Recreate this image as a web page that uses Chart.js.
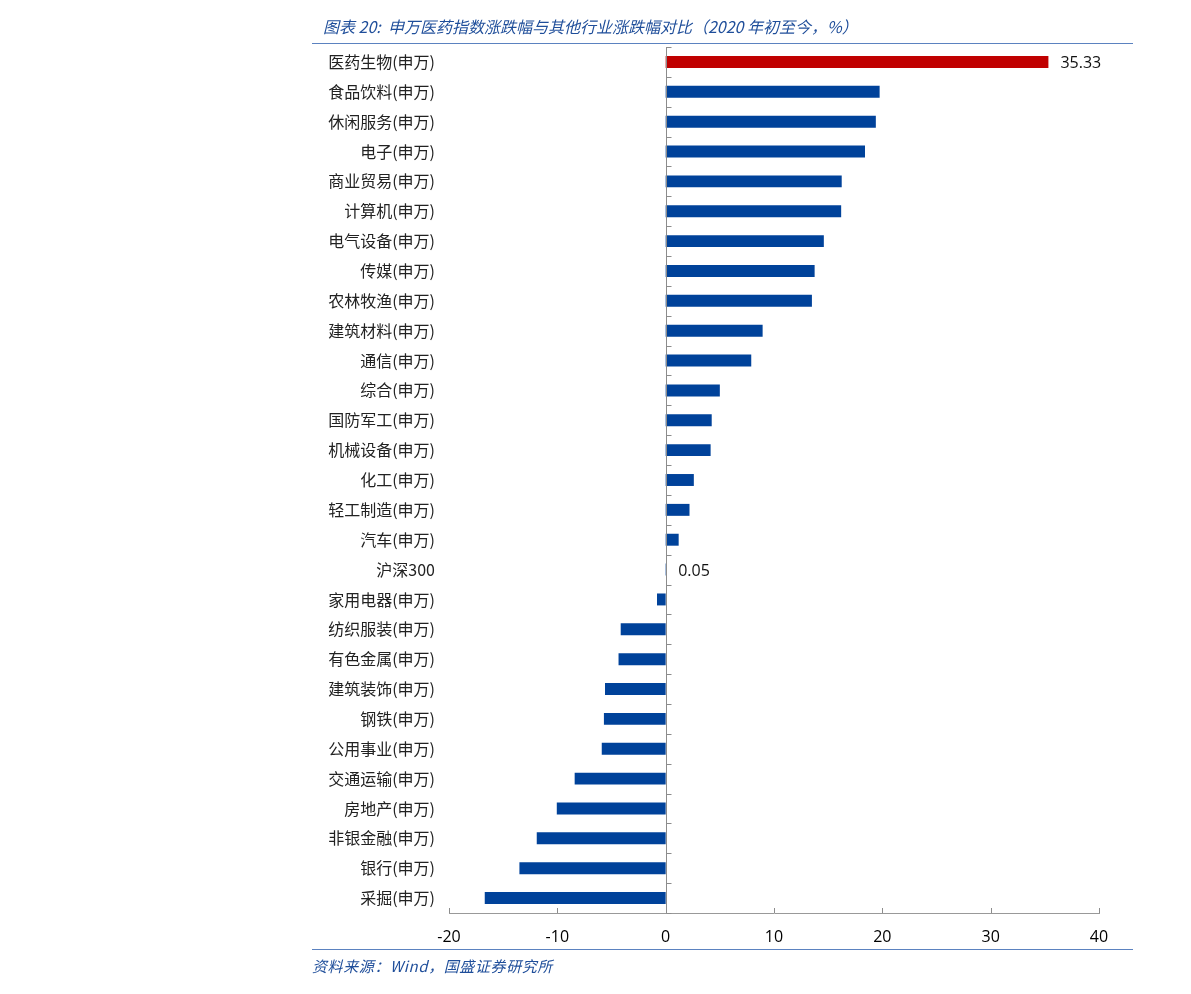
<!DOCTYPE html>
<html>
<head>
<meta charset="utf-8">
<script src="https://cdn.jsdelivr.net/npm/chart.js@4/dist/chart.umd.min.js"></script>
<style>
  body { margin: 0; background: #fff; }
  #wrap { position: relative; width: 1191px; height: 994px; }
  #chart { position: absolute; left: 0; top: 0; }
  .note { position: absolute; font-family: "Noto Sans CJK SC", sans-serif; font-style: italic; color: #1f4e9a; font-size: 15px; white-space: nowrap; }
  .rule { position: absolute; left: 312px; width: 821px; height: 0; border-top: 1.5px solid #5b82c0; }
</style>
</head>
<body>
<div id="wrap">
  <canvas id="chart" width="1191" height="994"></canvas>
  <div class="note" style="left:323px; top:14px; font-size:16px;">图表 20:&nbsp; 申万医药指数涨跌幅与其他行业涨跌幅对比（2020 年初至今，%）</div>
  <div class="rule" style="top:43px;"></div>
  <div class="rule" style="top:949px;"></div>
  <div class="note" style="left:312px; top:955px; letter-spacing:0.6px;">资料来源：Wind，国盛证券研究所</div>
</div>
<script>
// industries, top to bottom
var industries = ['医药生物(申万)', '食品饮料(申万)', '休闲服务(申万)', '电子(申万)', '商业贸易(申万)',
    '计算机(申万)', '电气设备(申万)', '传媒(申万)', '农林牧渔(申万)', '建筑材料(申万)',
    '通信(申万)', '综合(申万)', '国防军工(申万)', '机械设备(申万)', '化工(申万)',
    '轻工制造(申万)', '汽车(申万)', '沪深300', '家用电器(申万)', '纺织服装(申万)',
    '有色金属(申万)', '建筑装饰(申万)', '钢铁(申万)', '公用事业(申万)', '交通运输(申万)',
    '房地产(申万)', '非银金融(申万)', '银行(申万)', '采掘(申万)'];
// change since start of 2020, %
var changes = [35.33, 19.75, 19.4, 18.4, 16.25,
    16.2, 14.6, 13.75, 13.5, 8.95,
    7.9, 5.0, 4.25, 4.15, 2.6,
    2.2, 1.2, 0.05, -0.8, -4.15,
    -4.35, -5.6, -5.7, -5.9, -8.4,
    -10.05, -11.9, -13.5, -16.7];
var xTicks = [-20, -10, 0, 10, 20, 30, 40];
var labelled = ['医药生物(申万)', '沪深300'];

var barColors = industries.map(function(n) {
    return n == '医药生物(申万)' ? '#c00000' : '#00429a';
});

//draws the zero line, category ticks, upward x ticks and the two value labels
var extras = {
    id: 'extras',
    afterDatasetsDraw: function(chart) {
        var ctx = chart.ctx;
        var xs = chart.scales.x, ys = chart.scales.y;
        var area = chart.chartArea;
        var x0 = Math.round(xs.getPixelForValue(0)) + 0.5;
        ctx.save();
        ctx.strokeStyle = '#8c8c8c';
        ctx.lineWidth = 1;
        ctx.beginPath();
        ctx.moveTo(x0, area.top);
        ctx.lineTo(x0, area.bottom);
        for (var i = 0; i <= industries.length; i++) {
            var y = Math.round(ys.getPixelForValue(i - 0.5)) + 0.5;
            ctx.moveTo(x0, y);
            ctx.lineTo(x0 + 5, y);
        }
        xTicks.forEach(function(t) {
            var x = Math.round(xs.getPixelForValue(t)) + 0.5;
            ctx.moveTo(x, area.bottom);
            ctx.lineTo(x, area.bottom - 5);
        });
        ctx.stroke();

        ctx.fillStyle = '#111';
        ctx.font = '16px "Open Sans", sans-serif';
        ctx.textBaseline = 'middle';
        ctx.textAlign = 'left';
        var meta = chart.getDatasetMeta(0);
        industries.forEach(function(n, i) {
            if (labelled.indexOf(n) < 0) return;
            var bar = meta.data[i];
            var end = Math.max(bar.x, bar.base);
            ctx.fillText(changes[i].toFixed(2), end + 12, bar.y + 2);
        });
        ctx.restore();
    }
};

var chrt = document.getElementById('chart').getContext('2d');
var barChart = new Chart(chrt, {
    type: 'bar',
    data: {
        labels: industries,
        datasets: [{
            data: changes,
            backgroundColor: barColors,
            barPercentage: 0.8,
            categoryPercentage: 0.5
        }]
    },
    options: {
        indexAxis: 'y',
        responsive: false,
        animation: false,
        layout: { padding: { left: 0, right: 92, top: 47, bottom: 0 } },
        plugins: {
            legend: { display: false },
            tooltip: { enabled: false }
        },
        scales: {
            x: {
                min: -20,
                max: 40,
                afterBuildTicks: function(s) {
                    s.ticks = xTicks.map(function(v) { return { value: v }; });
                },
                afterFit: function(s) { s.height = 81; },
                grid: { display: false },
                border: { display: true, color: '#999', width: 1 },
                ticks: {
                    padding: 7,
                    color: '#000',
                    font: { family: '"Open Sans", sans-serif', size: 16 }
                }
            },
            y: {
                afterFit: function(s) { s.width = 449; },
                grid: { display: false },
                border: { display: false },
                ticks: {
                    padding: 6,
                    color: '#222',
                    autoSkip: false,
                    font: { family: '"Noto Sans CJK SC", sans-serif', size: 16 }
                }
            }
        }
    },
    plugins: [extras]
});
</script>
</body>
</html>
